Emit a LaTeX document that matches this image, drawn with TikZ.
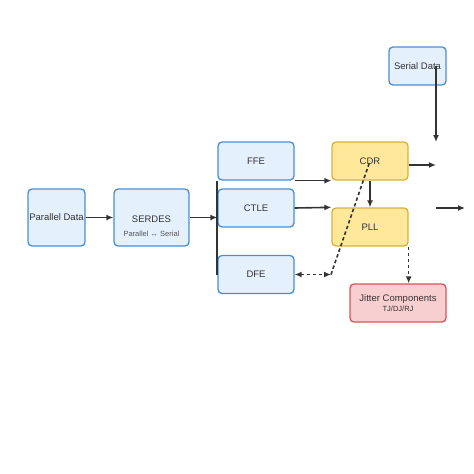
\documentclass[tikz,border=0pt]{standalone}
\usepackage{fontspec}
\setmainfont{Liberation Sans}
\usetikzlibrary{arrows.meta}
\usepackage{xcolor}
\definecolor{bluefill}{HTML}{E4F0FC}
\definecolor{blueline}{HTML}{4A8FD6}
\definecolor{yellowfill}{HTML}{FFE899}
\definecolor{yellowline}{HTML}{D6B23C}
\definecolor{redfill}{HTML}{F8CFD0}
\definecolor{redline}{HTML}{D9545A}
\definecolor{txt}{HTML}{333333}
\definecolor{subtxt}{HTML}{555555}

\begin{document}
\begin{tikzpicture}[x=1pt, y=-1pt,
	box/.style={draw, rounded corners=4pt, line width=1.3pt, inner sep=0pt, text=txt,
		font=\fontsize{9.5}{11}\selectfont, align=center},
	bluebox/.style={box, fill=bluefill, draw=blueline},
	yellowbox/.style={box, fill=yellowfill, draw=yellowline},
	redbox/.style={box, fill=redfill, draw=redline},
	arr/.style={-{Latex[length=7pt,width=6pt]}, line width=1.6pt, draw=txt},
	small/.style={font=\fontsize{7.5}{9}\selectfont, text=subtxt}]
	\useasboundingbox (0,0) rectangle (474,474);
	\node (pd) [bluebox, minimum width=57pt, minimum height=57pt] at (56.5, 217.5) {Parallel Data};
	\node (serdes) [bluebox, minimum width=75pt, minimum height=57pt] at (151.5, 217.5) {};
	\node (serdestitle) [text=txt, font=\fontsize{9.5}{11}\selectfont] at (151.5, 219) {SERDES};
	\node (serdessub) [small] at (151.5, 234) {Parallel ↔ Serial};
	\node (ffe) [bluebox, minimum width=76pt, minimum height=38pt] at (256, 161) {FFE};
	\node (ctle) [bluebox, minimum width=76pt, minimum height=38pt] at (256, 208) {CTLE};
	\node (dfe) [bluebox, minimum width=76pt, minimum height=38pt] at (256, 274.5) {DFE};
	\node (cdr) [yellowbox, minimum width=76pt, minimum height=38pt] at (370, 161) {CDR};
	\node (pll) [yellowbox, minimum width=76pt, minimum height=38pt] at (370, 227) {PLL};
	\node (jit) [redbox, minimum width=96pt, minimum height=38pt] at (398, 303) {Jitter Components\\[-1pt]{\fontsize{7.5}{9}\selectfont TJ/DJ/RJ}};
	\node (sd) [bluebox, minimum width=57pt, minimum height=38pt] at (417.5, 66) {Serial Data};
	\coordinate (sdin) at (436, 142);
	\coordinate (cdrout) at (436, 165);
	\coordinate (outa) at (436, 208);
	\coordinate (outb) at (465, 208);
	\coordinate (bend) at (331, 274.5);
	\draw[line width=1.8pt, txt] (ffe.south west) -- (dfe.west);
	\draw[arr] (pd) -- (serdes);
	\draw[arr] (serdes) -- (serdes -| ctle.west);
	\draw[arr] (ffe.south east) -- (cdr.south west);
	\draw[arr] (ctle.east) -- (pll.north west);
	\draw[arr] (cdr) -- (pll);
	\draw[arr] (cdr.east |- cdrout) -- (cdrout);
	\draw[arr] (sd.center -| sdin) -- (sdin);
	\draw[arr] (outa) -- (outb);
	\draw[arr, {Latex[length=7pt,width=6pt]}-{Latex[length=7pt,width=6pt]}, dash pattern=on 3.5pt off 2.5pt] (dfe.east) -- (bend);
	\draw[line width=1.6pt, txt, dash pattern=on 3.5pt off 2.5pt] (bend) -- (cdr.center);
	\draw[arr, dash pattern=on 3.5pt off 2.5pt] (pll.south east) -- (pll.south east |- jit.north);
\end{tikzpicture}
\end{document}
